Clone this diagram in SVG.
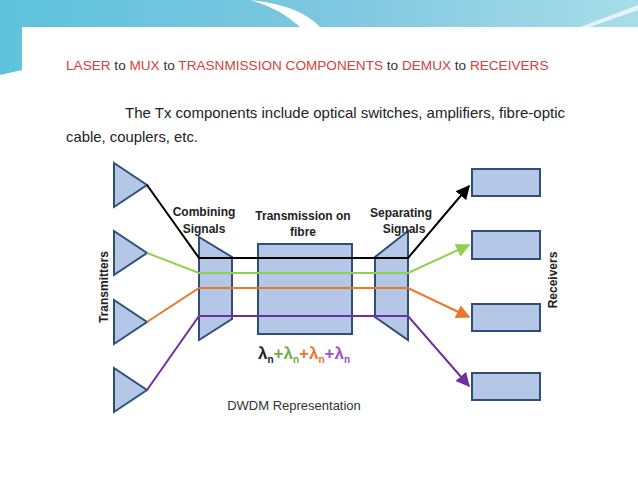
<svg xmlns="http://www.w3.org/2000/svg" width="638" height="478" viewBox="0 0 638 478">
<defs>
<linearGradient id="bg" x1="0" y1="0" x2="1" y2="0"><stop offset="0" stop-color="#5fc3dc"/><stop offset="0.5" stop-color="#7cc6e0"/><stop offset="1" stop-color="#a8dde8"/></linearGradient>
<marker id="ak" viewBox="0 0 10 10" refX="9" refY="5" markerWidth="7" markerHeight="7" orient="auto"><path d="M0,0L10,5L0,10z" fill="#000"/></marker>
<marker id="ag" viewBox="0 0 10 10" refX="9" refY="5" markerWidth="7" markerHeight="7" orient="auto"><path d="M0,0L10,5L0,10z" fill="#8fd14f"/></marker>
<marker id="ao" viewBox="0 0 10 10" refX="9" refY="5" markerWidth="7" markerHeight="7" orient="auto"><path d="M0,0L10,5L0,10z" fill="#e8792b"/></marker>
<marker id="ap" viewBox="0 0 10 10" refX="9" refY="5" markerWidth="7" markerHeight="7" orient="auto"><path d="M0,0L10,5L0,10z" fill="#7030a0"/></marker>
</defs>
<style>
.s{fill:#b4c7e7;stroke:#2f4f7a;stroke-width:2}
.t{font-family:"Liberation Sans",Arial,sans-serif}
.b{font-family:"Liberation Sans",Arial,sans-serif;font-weight:bold;font-size:12px;fill:#222;text-anchor:middle}
.l{fill:none;stroke-width:2}
</style>
<rect width="638" height="478" fill="#fff"/>
<path d="M0,0H638V27H22V70L0,75Z" fill="url(#bg)"/>
<path d="M250,0Q300,5 320,27H300Q280,8 250,0Z" fill="#fff"/>
<path d="M580,27L638,5V10L590,27Z" fill="#fff" opacity="0.7"/>
<rect x="22" y="27" width="590" height="420" fill="#fff"/>
<text class="t" x="66" y="70" font-size="13.6" fill="#333"><tspan fill="#d9403a">LASER</tspan> to <tspan fill="#d9403a">MUX</tspan> to <tspan fill="#d9403a">TRASNMISSION COMPONENTS</tspan> to <tspan fill="#d9403a">DEMUX</tspan> to <tspan fill="#d9403a">RECEIVERS</tspan></text>
<text class="t" x="125" y="118" font-size="15" fill="#222" textLength="440" lengthAdjust="spacingAndGlyphs">The Tx components include optical switches, amplifiers, fibre-optic</text>
<text class="t" x="66" y="142" font-size="15" fill="#222" textLength="132" lengthAdjust="spacingAndGlyphs">cable, couplers, etc.</text>
<g id="tx1"><path class="s" d="M114,163L147,185L114,207Z"/></g>
<g id="tx2"><path class="s" d="M114,231L147,253L114,275Z"/></g>
<g id="tx3"><path class="s" d="M114,300L147,322L114,344Z"/></g>
<g id="tx4"><path class="s" d="M114,368L147,390L114,412Z"/></g>
<g id="mux"><path class="s" d="M199,237L232,257V319L199,340Z"/></g>
<g id="fibre"><rect class="s" x="258" y="244" width="94" height="90"/></g>
<g id="demux"><path class="s" d="M375,257L408,231V340L375,317Z"/></g>
<g id="rx1"><rect class="s" x="472" y="169" width="68" height="27"/></g>
<g id="rx2"><rect class="s" x="472" y="231" width="68" height="28"/></g>
<g id="rx3"><rect class="s" x="472" y="304" width="68" height="27"/></g>
<g id="rx4"><rect class="s" x="472" y="373" width="68" height="27"/></g>
<g id="connectors">
<polyline class="l" stroke="#000" points="147,185 199,258 408,258 469,186" marker-end="url(#ak)"/>
<polyline class="l" stroke="#8fd14f" points="147,253 199,273 408,273 469,245" marker-end="url(#ag)"/>
<polyline class="l" stroke="#e8792b" points="147,322 199,288 408,288 469,317" marker-end="url(#ao)"/>
<polyline class="l" stroke="#7030a0" points="147,390 199,316 408,316 469,386" marker-end="url(#ap)"/>
</g>
<text class="b" x="204" y="216">Combining</text>
<text class="b" x="204" y="233">Signals</text>
<text class="b" x="303" y="220">Transmission on</text>
<text class="b" x="303" y="236">fibre</text>
<text class="b" x="401" y="217">Separating</text>
<text class="b" x="404" y="233">Signals</text>
<text class="b" transform="translate(108,287) rotate(-90)" font-size="13">Transmitters</text>
<text class="b" transform="translate(557,280) rotate(-90)" font-size="13">Receivers</text>
<text class="t" x="258" y="359" font-size="17" font-weight="bold"><tspan fill="#222">λ</tspan><tspan fill="#222" font-size="10" dy="4">n</tspan><tspan fill="#70ad47" dy="-4">+λ</tspan><tspan fill="#70ad47" font-size="10" dy="4">n</tspan><tspan fill="#e8792b" dy="-4">+λ</tspan><tspan fill="#e8792b" font-size="10" dy="4">n</tspan><tspan fill="#9b4fd0" dy="-4">+λ</tspan><tspan fill="#9b4fd0" font-size="10" dy="4">n</tspan></text>
<text class="t" x="294" y="410" font-size="13" fill="#333" text-anchor="middle">DWDM Representation</text>
</svg>
